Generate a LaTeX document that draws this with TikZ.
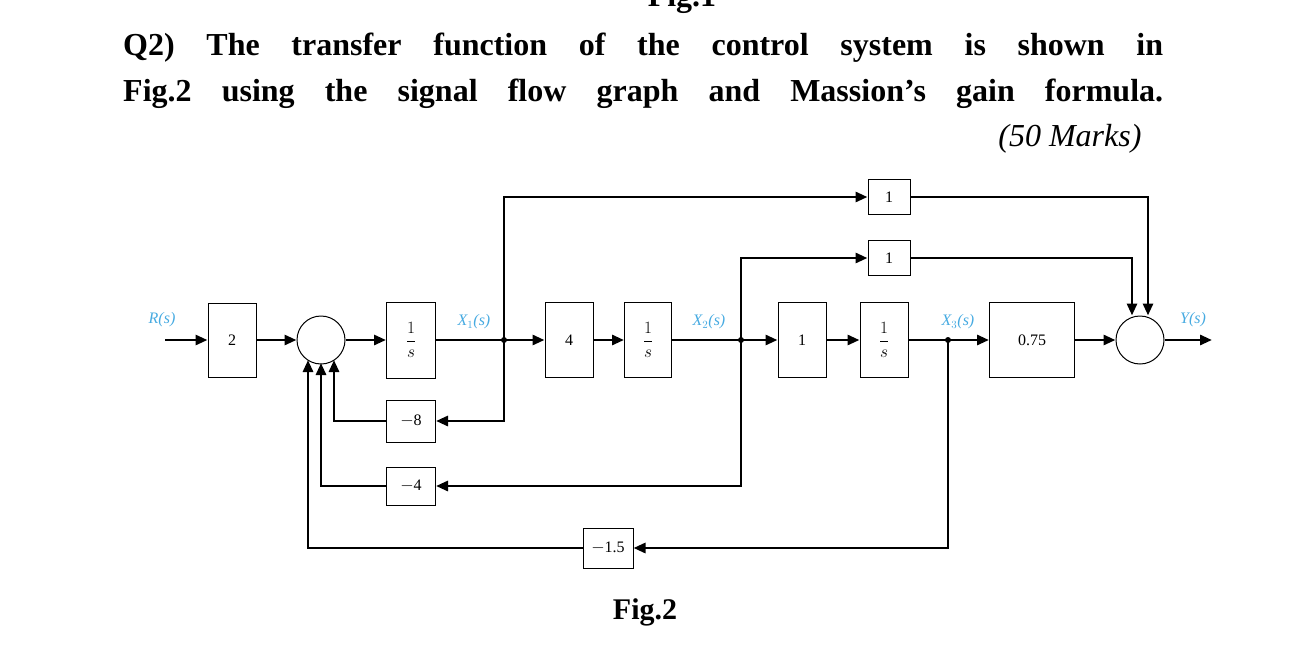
\documentclass[tikz,border=0pt]{standalone}
\usepackage{fontspec}
\setmainfont{Liberation Serif}
\usetikzlibrary{arrows.meta}
\definecolor{lbl}{RGB}{70,170,225}
\begin{document}
\begin{tikzpicture}[x=1pt,y=-1pt,
  blk/.style={draw,line width=1pt,inner sep=0pt,font=\fontsize{16}{16}\selectfont},
  sum/.style={draw,circle,line width=1pt,minimum size=48pt,inner sep=0pt},
  sig/.style={line width=2.8pt,-{Triangle[length=12pt,width=10pt]}},
  ln/.style={line width=2.8pt},
  lab/.style={text=lbl,font=\fontsize{16}{16}\selectfont\itshape},
  frac/.style={font=\fontsize{16}{16}\selectfont},
  ttl/.style={font=\fontsize{32}{32}\selectfont\bfseries,anchor=base west,inner sep=0pt}]
\useasboundingbox (0,0) rectangle (1290,653);
\begin{scope}
\clip (0,0) rectangle (1290,653);
\node[font=\fontsize{32}{32}\selectfont\bfseries,anchor=base] (f1) at (682,6) {Fig.1};
\end{scope}
\node[ttl] (t1) at (123,55) {\makebox[1040pt][s]{Q2) The transfer function of the control system is shown in}};
\node[ttl] (t2) at (123,101) {\makebox[1040pt][s]{Fig.2 using the signal flow graph and Massion's gain formula.}};
\node[font=\fontsize{32}{32}\selectfont\itshape,anchor=base east] (t3) at (1145,146) {(50 Marks)};
\node[font=\fontsize{30}{30}\selectfont\bfseries] (f2) at (645,612) {Fig.2};

\node[blk,minimum width=48pt,minimum height=74pt] (b2) at (232,340) {2};
\node[sum] (s1) at (321,340) {};
\node[blk,minimum width=49pt,minimum height=76pt,frac] (i1) at (411,340) {$\displaystyle\frac{1}{s}$};
\node[blk,minimum width=48pt,minimum height=75pt] (b4) at (569,340) {4};
\node[blk,minimum width=47pt,minimum height=75pt,frac] (i2) at (648,340) {$\displaystyle\frac{1}{s}$};
\node[blk,minimum width=48pt,minimum height=75pt] (b1) at (802,340) {1};
\node[blk,minimum width=48pt,minimum height=75pt,frac] (i3) at (884,340) {$\displaystyle\frac{1}{s}$};
\node[blk,minimum width=85pt,minimum height=75pt] (b75) at (1032,340) {0.75};
\node[sum] (s2) at (1140,340) {};
\node[blk,minimum width=42pt,minimum height=35pt] (u1) at (889,197) {1};
\node[blk,minimum width=42pt,minimum height=35pt] (u2) at (889,258) {1};
\node[blk,minimum width=49pt,minimum height=42pt] (m8) at (411,421) {$-$8};
\node[blk,minimum width=49pt,minimum height=38pt] (m4) at (411,486) {$-$4};
\node[blk,minimum width=50pt,minimum height=40pt] (m15) at (608,548) {$-$1.5};

\coordinate (rin) at (165,340);
\coordinate (yout) at (1212,340);
\coordinate (j1) at (504,340);
\coordinate (j2) at (741,340);
\coordinate (j3) at (948,340);
\node[lab] (lr) at (162,320) {R(s)};
\node[lab] (lx1) at (474,322) {X$_1$(s)};
\node[lab] (lx2) at (709,322) {X$_2$(s)};
\node[lab] (lx3) at (958,322) {X$_3$(s)};
\node[lab] (ly) at (1193,320) {Y(s)};

\draw[sig] (rin) -- (b2);
\draw[sig] (b2) -- (s1);
\draw[sig] (s1) -- (i1);
\draw[ln] (i1) -- (j1);
\draw[sig] (j1) -- (b4);
\draw[sig] (b4) -- (i2);
\draw[ln] (i2) -- (j2);
\draw[sig] (j2) -- (b1);
\draw[sig] (b1) -- (i3);
\draw[ln] (i3) -- (j3);
\draw[sig] (j3) -- (b75);
\draw[sig] (b75) -- (s2);
\draw[sig] (s2) -- (yout);
\fill (j1) circle (3pt) (j2) circle (3pt) (j3) circle (3pt);

\draw[sig] (j1) |- (u1);
\draw[sig] (j2) |- (u2);
\draw[sig] (u1) -| ([xshift=8pt]s2.north);
\draw[sig] (u2) -| ([xshift=-8pt]s2.north);

\draw[sig] (j1) |- (m8);
\draw[sig] (j2) |- (m4);
\draw[sig] (j3) |- (m15);
\draw[sig] (m8) -| (334,360);
\draw[sig] (m4) -| (321,363);
\draw[sig] (m15) -| (308,360);
\end{tikzpicture}
\end{document}
